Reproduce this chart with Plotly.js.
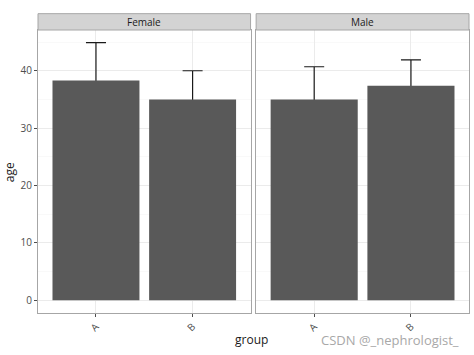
<!DOCTYPE html>
<html>
<head>
<meta charset="utf-8">
<script src="https://cdn.plot.ly/plotly-3.0.1.min.js"></script>
<style>html,body{margin:0;padding:0;background:#fff;}#chart{width:474px;height:355px;}</style>
</head>
<body>
<div id="chart"></div>
<script>
const categories = ['A', 'B'];
const panels = ['Female', 'Male'];
const femaleAge = [38.3, 35.0];
const femaleErr = [6.6, 5.0];
const maleAge = [35.0, 37.4];
const maleErr = [5.7, 4.5];
const yTicks = [0, 10, 20, 30, 40];

const barColor = '#595959';
function errTrace(y, err, xa, ya) {
  return {
    type: 'bar', x: categories, y: y, xaxis: xa, yaxis: ya,
    width: 0.9, marker: {color: 'rgba(0,0,0,0)', line: {width: 0}},
    error_y: {type: 'data', array: err, symmetric: true,
              color: '#1a1a1a', thickness: 1.2, width: 10},
    showlegend: false, hoverinfo: 'skip'
  };
}
function barTrace(y, xa, ya) {
  return {
    type: 'bar', x: categories, y: y, xaxis: xa, yaxis: ya,
    width: 0.9, marker: {color: barColor, line: {width: 0}},
    showlegend: false, hoverinfo: 'skip'
  };
}
const data = [
  errTrace(femaleAge, femaleErr, 'x', 'y'),
  barTrace(femaleAge, 'x', 'y'),
  errTrace(maleAge, maleErr, 'x2', 'y2'),
  barTrace(maleAge, 'x2', 'y2')
];

const font = 'Open Sans, DejaVu Sans, sans-serif';
const xCommon = {
  type: 'category', range: [-0.6, 1.6], autorange: false,
  showgrid: true, gridcolor: '#ebebeb', gridwidth: 1,
  showline: true, linecolor: '#a6a6a6', linewidth: 1, mirror: true,
  ticks: 'outside', ticklen: 3, tickcolor: '#4d4d4d', tickangle: -45,
  tickfont: {family: font, size: 10, color: '#4d4d4d'},
  zeroline: false, fixedrange: true
};
const yCommon = {
  range: [-2.2, 47.1], autorange: false,
  tickvals: yTicks, ticktext: yTicks.map(String),
  showgrid: true, gridcolor: '#ebebeb', gridwidth: 1,
  minor: {dtick: 5, tick0: 5, showgrid: true, gridcolor: '#f5f5f5', gridwidth: 0.6, ticks: ''},
  showline: true, linecolor: '#a6a6a6', linewidth: 1, mirror: true,
  ticks: 'outside', ticklen: 3, tickcolor: '#4d4d4d',
  tickfont: {family: font, size: 10, color: '#4d4d4d'},
  zeroline: false, fixedrange: true
};

const d1 = [0, 0.4932];
const d2 = [0.5061, 1];
const stripTop = 1.0577;

const layout = {
  width: 474, height: 355,
  margin: {l: 38, r: 4.7, t: 30.3, b: 42.3},
  paper_bgcolor: '#ffffff', plot_bgcolor: '#ffffff',
  font: {family: font},
  barmode: 'overlay',
  xaxis: Object.assign({}, xCommon, {domain: d1, anchor: 'y'}),
  xaxis2: Object.assign({}, xCommon, {domain: d2, anchor: 'y2'}),
  yaxis: Object.assign({}, yCommon, {anchor: 'x'}),
  yaxis2: Object.assign({}, yCommon, {anchor: 'x2', showticklabels: false, ticks: ''}),
  shapes: [
    {type: 'rect', xref: 'paper', yref: 'paper', x0: d1[0], x1: d1[1], y0: 1, y1: stripTop,
     fillcolor: '#d3d3d3', line: {color: '#a6a6a6', width: 1}},
    {type: 'rect', xref: 'paper', yref: 'paper', x0: d2[0], x1: d2[1], y0: 1, y1: stripTop,
     fillcolor: '#d3d3d3', line: {color: '#a6a6a6', width: 1}}
  ],
  annotations: [
    {text: panels[0], xref: 'paper', yref: 'paper', x: (d1[0] + d1[1]) / 2, y: 1.0294,
     showarrow: false, xanchor: 'center', yanchor: 'middle', font: {family: font, size: 10, color: '#1a1a1a'}},
    {text: panels[1], xref: 'paper', yref: 'paper', x: (d2[0] + d2[1]) / 2, y: 1.0294,
     showarrow: false, xanchor: 'center', yanchor: 'middle', font: {family: font, size: 10, color: '#1a1a1a'}},
    {text: 'group', xref: 'paper', yref: 'paper', x: 0.496, y: -0.093,
     showarrow: false, xanchor: 'center', yanchor: 'middle', font: {family: font, size: 12, color: '#1a1a1a'}},
    {text: 'age', xref: 'paper', yref: 'paper', x: -0.067, y: 0.498, textangle: -90,
     showarrow: false, xanchor: 'center', yanchor: 'middle', font: {family: font, size: 12, color: '#1a1a1a'}},
    {text: 'CSDN @_nephrologist_', xref: 'paper', yref: 'paper', x: 0.816, y: -0.097,
     showarrow: false, xanchor: 'center', yanchor: 'middle', font: {family: font, size: 13, color: '#a8a8a8'}}
  ]
};

Plotly.newPlot('chart', data, layout, {displayModeBar: false, staticPlot: true});
</script>
</body>
</html>
